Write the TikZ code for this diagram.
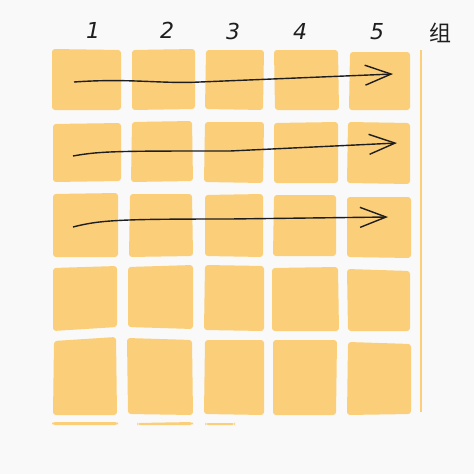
\documentclass[tikz,border=0pt]{standalone}
\usepackage{fontspec}
\setmainfont{DejaVu Sans}
\newfontfamily\cjk{Noto Sans CJK SC}
\usetikzlibrary{arrows.meta}
\definecolor{cellc}{RGB}{251,206,121}
\definecolor{bgc}{RGB}{249,249,249}
\definecolor{inkc}{RGB}{30,30,30}
\tikzset{
  cell/.style={fill=cellc, draw=none, rounded corners=3pt},
  colnum/.style={font=\fontsize{22}{22}\selectfont\itshape, text=inkc, inner sep=0pt},
  flow/.style={draw=inkc, line width=1.4pt, -{Straight Barb[length=26pt,width=20pt,line width=1.4pt]}},
}
\begin{document}
\begin{tikzpicture}[x=1pt,y=-1pt]
\fill[bgc] (0,0) rectangle (474,474);
\useasboundingbox (0,0) rectangle (474,474);
% row 1
\fill[cell] (52,49) -- (121,50) -- (121,110) -- (52,110) -- cycle;
\fill[cell] (132,50) -- (195,49) -- (195,109) -- (132,110) -- cycle;
\fill[cell] (206,50) -- (264,50) -- (263,110) -- (205,109) -- cycle;
\fill[cell] (274,50) -- (338,50) -- (339,110) -- (275,110) -- cycle;
\fill[cell] (350,52) -- (410,52) -- (410,110) -- (349,110) -- cycle;
% row 2
\fill[cell] (53,124) -- (121,123) -- (121,181) -- (53,182) -- cycle;
\fill[cell] (132,122) -- (192,121) -- (193,181) -- (131,182) -- cycle;
\fill[cell] (205,122) -- (264,122) -- (263,183) -- (204,182) -- cycle;
\fill[cell] (274,123) -- (338,122) -- (338,183) -- (274,183) -- cycle;
\fill[cell] (348,122) -- (410,123) -- (410,184) -- (347,183) -- cycle;
% row 3
\fill[cell] (53,194) -- (118,193) -- (118,257) -- (53,257) -- cycle;
\fill[cell] (130,194) -- (192,194) -- (193,256) -- (129,257) -- cycle;
\fill[cell] (205,195) -- (263,194) -- (263,257) -- (205,256) -- cycle;
\fill[cell] (274,195) -- (336,195) -- (336,256) -- (273,256) -- cycle;
\fill[cell] (347,197) -- (411,197) -- (411,258) -- (347,257) -- cycle;
% row 4
\fill[cell] (53,268) -- (117,266) -- (117,327) -- (53,331) -- cycle;
\fill[cell] (128,267) -- (193,265) -- (193,329) -- (128,327) -- cycle;
\fill[cell] (205,265) -- (264,266) -- (264,331) -- (204,330) -- cycle;
\fill[cell] (272,268) -- (338,267) -- (339,331) -- (272,331) -- cycle;
\fill[cell] (347,269) -- (410,271) -- (410,331) -- (348,331) -- cycle;
% row 5
\fill[cell] (54,341) -- (116,337) -- (117,415) -- (53,415) -- cycle;
\fill[cell] (127,338) -- (192,340) -- (193,415) -- (128,414) -- cycle;
\fill[cell] (205,340) -- (264,340) -- (264,415) -- (204,414) -- cycle;
\fill[cell] (273,340) -- (337,340) -- (336,415) -- (273,415) -- cycle;
\fill[cell] (348,342) -- (411,344) -- (411,414) -- (347,415) -- cycle;
% row 6 slivers
\fill[cell] (52,422) -- (118,422) -- (118,425) -- (52,425) -- cycle;
\fill[cell] (137,423) -- (193,422) -- (193,425) -- (137,425) -- cycle;
\fill[cell] (205,423) -- (235,423) -- (235,425) -- (205,425) -- cycle;
% right line
\draw[cellc, line width=1.2pt] (421,50) -- (421,412);
% numbers
\node[colnum] (n1) at (93,30) {1};
\node[colnum] (n2) at (167,30) {2};
\node[colnum] (n3) at (233,31) {3};
\node[colnum] (n4) at (300,31) {4};
\node[colnum] (n5) at (377,32) {5};
\node[font=\cjk\fontsize{22}{22}\selectfont, text=inkc, inner sep=0pt] (zu) at (440,33) {组};
% arrows
\coordinate (a1s) at (74,82);
\coordinate (a1e) at (393,74);
\coordinate (a2s) at (73,156);
\coordinate (a2e) at (397,143);
\coordinate (a3s) at (73,227);
\coordinate (a3e) at (388,217);
\draw[flow] (a1s) .. controls (130,78) and (160,84) .. (200,82) -- (a1e);
\draw[flow] (a2s) .. controls (100,151) and (120,151) .. (230,151) -- (a2e);
\draw[flow] (a3s) .. controls (100,220) and (120,219) .. (230,219) -- (a3e);
\end{tikzpicture}
\end{document}
